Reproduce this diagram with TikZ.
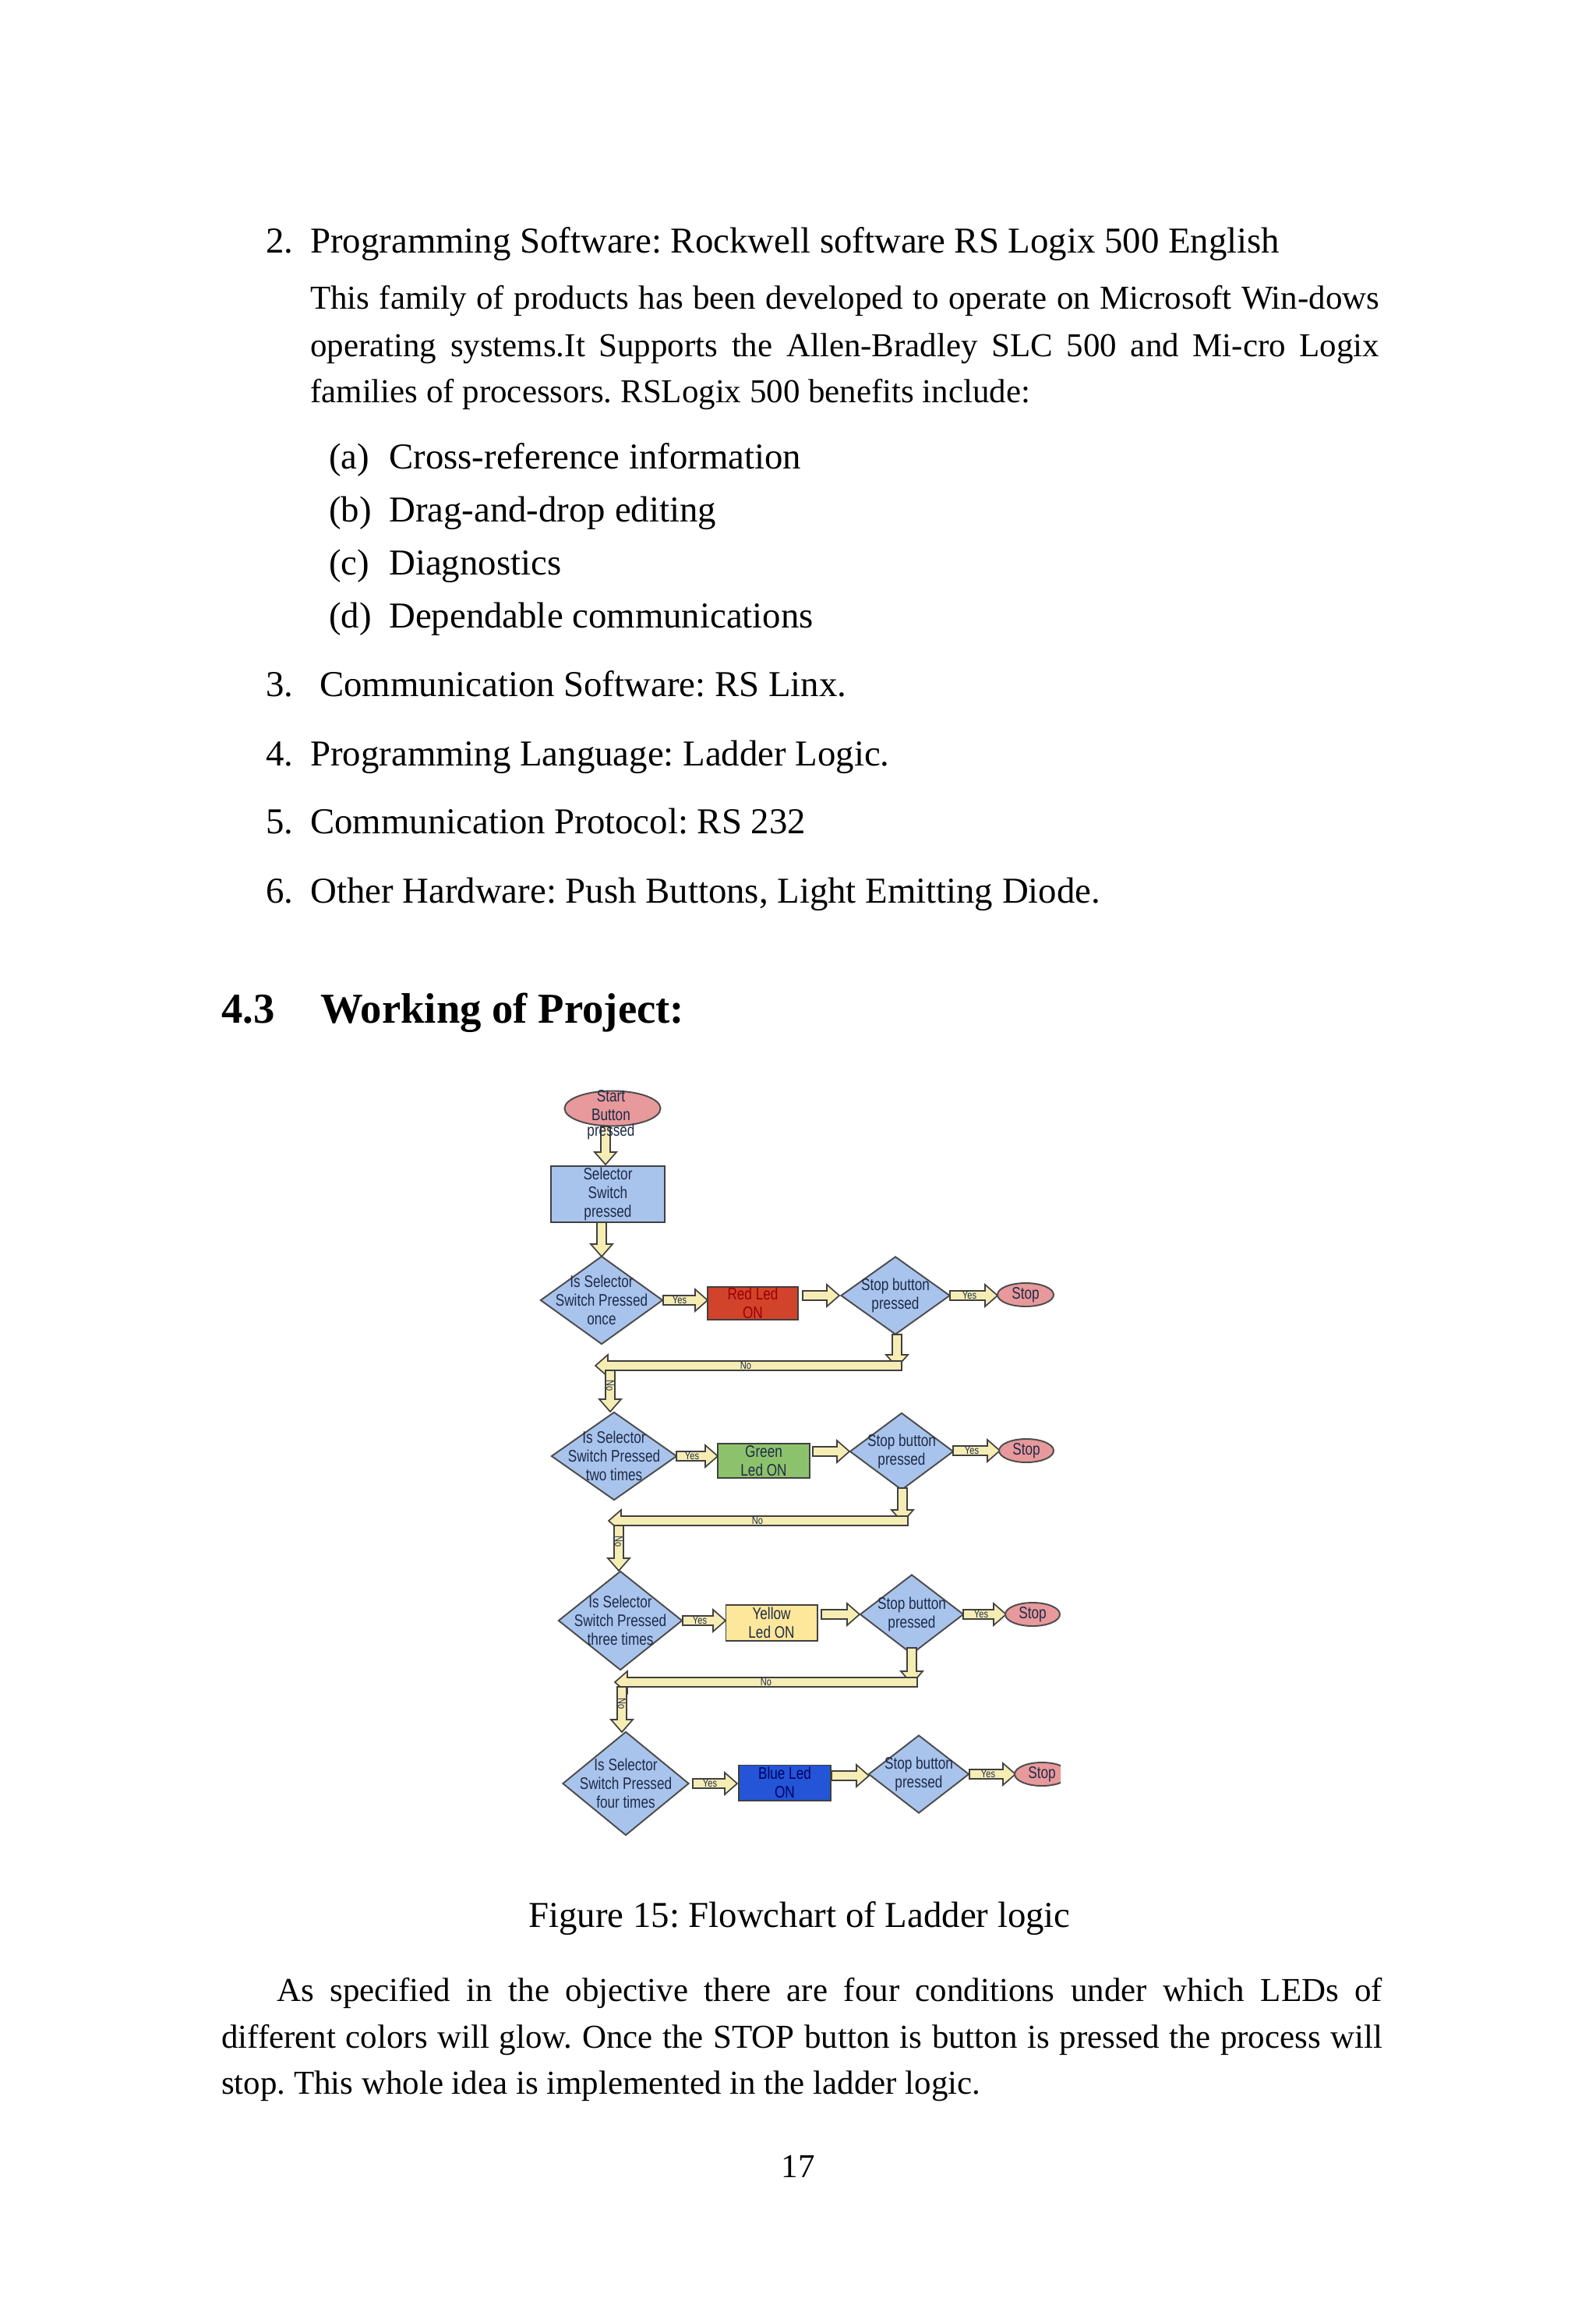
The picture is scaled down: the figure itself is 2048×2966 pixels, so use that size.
\documentclass[tikz,border=0pt]{standalone}
\usepackage{fontspec}
\setmainfont{Liberation Serif}
\newfontfamily\fcf[FakeStretch=0.8]{Liberation Sans}
\usetikzlibrary{shapes.geometric}
\definecolor{lblue}{HTML}{A9C4EC}
\definecolor{redled}{HTML}{D2432B}
\definecolor{grnled}{HTML}{8DC26C}
\definecolor{ylwled}{HTML}{FDE79B}
\definecolor{bluled}{HTML}{2355D6}
\definecolor{pinkov}{HTML}{E8999B}
\definecolor{arrfill}{HTML}{F6EDB4}
\definecolor{txtc}{HTML}{1E2A48}
\frenchspacing
\newcommand\bodyA{\fontsize{33.8}{43}\selectfont}
\newcommand\bodyB{\fontsize{31}{43}\selectfont}
\newcommand\fcs{\fcf\fontsize{15.5}{17.5}\selectfont}
\newcommand\fct{\fcf\fontsize{10}{11}\selectfont}
\newcommand\jline[3]{\node[anchor=base west,inner sep=0] at (#1) {\bodyB\makebox[#2][s]{#3}};}
\newcommand\harr[3]{%
 \pgfmathsetmacro\fsg{sign(#3-#2)}%
 \pgfmathsetmacro\fhx{#3-\fsg*16}%
 \draw[fat] (#2,#1-6)--(\fhx,#1-6)--(\fhx,#1-14)--(#3,#1)--(\fhx,#1+14)--(\fhx,#1+6)--(#2,#1+6)--cycle;}
\newcommand\varr[3]{%
 \pgfmathsetmacro\fhy{#3-16}%
 \draw[fat] (#1-6,#2)--(#1-6,\fhy)--(#1-14,\fhy)--(#1,#3)--(#1+14,\fhy)--(#1+6,\fhy)--(#1+6,#2)--cycle;}
\begin{document}
\begin{tikzpicture}[x=0.01in,y=-0.01in,
  fat/.style={fill=arrfill,draw=black!75,line width=1.2pt,line join=miter},
  dia/.style={diamond,draw=black!70,fill=lblue,line width=1.4pt,inner sep=0},
  rbox/.style={rectangle,draw=black!75,line width=1.4pt,inner sep=0},
  ov/.style={ellipse,draw=black!70,fill=pinkov,line width=1.4pt,inner sep=0},
  fc/.style={font=\fcs,text=txtc,align=center,inner sep=0},
  tl/.style={font=\fct,text=txtc,inner sep=0}]
\useasboundingbox (0,0) rectangle (2048,2966);
\fill[white] (0,0) rectangle (2048,2966);
% ---------- text ----------
\node[anchor=base west,inner sep=0] (n2) at (341,324) {\bodyA 2.};
\node[anchor=base west,inner sep=0] (t2) at (398,324) {\bodyA Programming Software: Rockwell software RS Logix 500 English};
\jline{398,396}{13.71in}{This family of products has been developed to operate on Microsoft Win-dows}
\jline{398,457}{13.71in}{operating systems.It Supports the Allen-Bradley SLC 500 and Mi-cro Logix}
\node[anchor=base west,inner sep=0] (p3) at (398,516) {\bodyB families of processors. RSLogix 500 benefits include:};
\node[anchor=base west,inner sep=0] (la) at (422,601) {\bodyA (a)};
\node[anchor=base west,inner sep=0] (ta) at (499,601) {\bodyA Cross-reference information};
\node[anchor=base west,inner sep=0] (lb) at (422,669) {\bodyA (b)};
\node[anchor=base west,inner sep=0] (tb) at (499,669) {\bodyA Drag-and-drop editing};
\node[anchor=base west,inner sep=0] (lc) at (422,737) {\bodyA (c)};
\node[anchor=base west,inner sep=0] (tc) at (499,737) {\bodyA Diagnostics};
\node[anchor=base west,inner sep=0] (ld) at (422,805) {\bodyA (d)};
\node[anchor=base west,inner sep=0] (td) at (499,805) {\bodyA Dependable communications};
\node[anchor=base west,inner sep=0] (n3) at (341,893) {\bodyA 3.};
\node[anchor=base west,inner sep=0] (t3) at (410,893) {\bodyA Communication Software: RS Linx.};
\node[anchor=base west,inner sep=0] (n4) at (341,982) {\bodyA 4.};
\node[anchor=base west,inner sep=0] (t4) at (398,982) {\bodyA Programming Language: Ladder Logic.};
\node[anchor=base west,inner sep=0] (n5) at (341,1069) {\bodyA 5.};
\node[anchor=base west,inner sep=0] (t5) at (398,1069) {\bodyA Communication Protocol: RS 232};
\node[anchor=base west,inner sep=0] (n6) at (341,1158) {\bodyA 6.};
\node[anchor=base west,inner sep=0] (t6) at (398,1158) {\bodyA Other Hardware: Push Buttons, Light Emitting Diode.};
\node[anchor=base west,inner sep=0] (h1) at (284,1312) {\fontsize{39.5}{46}\selectfont\bfseries 4.3};
\node[anchor=base west,inner sep=0] (h2) at (411,1312) {\fontsize{39.5}{46}\selectfont\bfseries Working of Project:};
\node[anchor=base,inner sep=0] (cap) at (1026,2472) {\bodyA Figure 15: Flowchart of Ladder logic};
\jline{355,2567}{14.18in}{As specified in the objective there are four conditions under which LEDs of}
\jline{284,2627}{14.89in}{different colors will glow. Once the STOP button is button is pressed the process will}
\node[anchor=base west,inner sep=0] (p9) at (284,2686) {\bodyB stop. This whole idea is implemented in the ladder logic.};
\node[anchor=base,inner sep=0] (pg) at (1024,2793) {\bodyB 17};
% ---------- flowchart ----------
\node[ov,minimum width=1.23in,minimum height=0.45in] (st) at (786,1422) {};
\node[fc] at (784,1418) {Start\\Button};
\varr{777}{1445}{1494}
\node[fc] at (784,1452) {pressed};
\node[rbox,fill=lblue,minimum width=1.46in,minimum height=0.72in] (sel) at (780,1532) {};
\node[fc] at (sel) {Selector\\Switch\\pressed};
\varr{772}{1568}{1612}
% row 1
\node[dia,minimum width=1.57in,minimum height=1.13in] (d1) at (772,1668) {};
\node[fc] at (d1) {Is Selector\\Switch Pressed\\once};
\harr{1668}{851}{908}
\node[tl] at (872,1668) {Yes};
\node[rbox,fill=redled,minimum width=1.16in,minimum height=0.42in] (r1) at (966,1672) {};
\node[fc,text=red!60!black] at (r1) {Red Led\\ON};
\harr{1662}{1030}{1077}
\node[dia,minimum width=1.40in,minimum height=1.00in] (s1) at (1149,1662) {};
\node[fc] at (s1) {Stop button\\pressed};
\harr{1662}{1219}{1280}
\node[tl] at (1244,1662) {Yes};
\node[ov,minimum width=0.72in,minimum height=0.30in,font=\fcs,text=txtc] (e1) at (1316,1661) {Stop};
\varr{1151}{1712}{1754}
\harr{1752}{1157}{764}
\node[tl] at (957,1752) {No};
\varr{783}{1758}{1811}
\node[tl,rotate=-90] at (783,1778) {No};
% row 2
\node[dia,minimum width=1.61in,minimum height=1.13in] (d2) at (788,1868) {};
\node[fc] at (d2) {Is Selector\\Switch Pressed\\two times};
\harr{1868}{868}{921}
\node[tl] at (888,1868) {Yes};
\node[rbox,fill=grnled,minimum width=1.18in,minimum height=0.44in] (r2) at (980,1874) {};
\node[fc] at (r2) {Green\\Led ON};
\harr{1862}{1043}{1090}
\node[dia,minimum width=1.33in,minimum height=0.99in] (s2) at (1157,1862) {};
\node[fc] at (s2) {Stop button\\pressed};
\harr{1861}{1223}{1283}
\node[tl] at (1247,1861) {Yes};
\node[ov,minimum width=0.70in,minimum height=0.30in,font=\fcs,text=txtc] (e2) at (1317,1861) {Stop};
\varr{1158}{1909}{1953}
\harr{1951}{1165}{781}
\node[tl] at (972,1951) {No};
\varr{794}{1957}{2015}
\node[tl,rotate=-90] at (794,1978) {No};
% row 3
\node[dia,minimum width=1.59in,minimum height=1.27in] (d3) at (796,2079) {};
\node[fc] at (d3) {Is Selector\\Switch Pressed\\three times};
\harr{2079}{876}{931}
\node[tl] at (898,2079) {Yes};
\node[rbox,fill=ylwled,minimum width=1.17in,minimum height=0.46in] (r3) at (990,2082) {};
\node[fc] at (r3) {Yellow\\Led ON};
\harr{2071}{1054}{1103}
\node[dia,minimum width=1.33in,minimum height=1.02in] (s3) at (1170,2071) {};
\node[fc] at (s3) {Stop button\\pressed};
\harr{2071}{1236}{1291}
\node[tl] at (1259,2071) {Yes};
\node[ov,minimum width=0.70in,minimum height=0.30in,font=\fcs,text=txtc] (e3) at (1325,2071) {Stop};
\varr{1170}{2114}{2160}
\harr{2158}{1177}{789}
\node[tl] at (983,2158) {No};
\varr{798}{2164}{2222}
\node[tl,rotate=-90] at (798,2186) {No};
% row 4
\node[dia,minimum width=1.62in,minimum height=1.33in] (d4) at (803,2288) {};
\node[fc] at (d4) {Is Selector\\Switch Pressed\\four times};
\harr{2288}{889}{946}
\node[tl] at (911,2288) {Yes};
\node[rbox,fill=bluled,minimum width=1.18in,minimum height=0.45in] (r4) at (1007,2287) {};
\node[fc,text=blue!40!black] at (r4) {Blue Led\\ON};
\harr{2278}{1067}{1115}
\node[dia,minimum width=1.29in,minimum height=1.00in] (s4) at (1179,2276) {};
\node[fc] at (s4) {Stop button\\pressed};
\harr{2276}{1244}{1303}
\node[tl] at (1268,2276) {Yes};
\begin{scope}
\clip (1290,2250) rectangle (1361,2300);
\node[ov,minimum width=0.70in,minimum height=0.30in,font=\fcs,text=txtc] (e4) at (1337,2276) {Stop};
\end{scope}
\end{tikzpicture}
\end{document}
